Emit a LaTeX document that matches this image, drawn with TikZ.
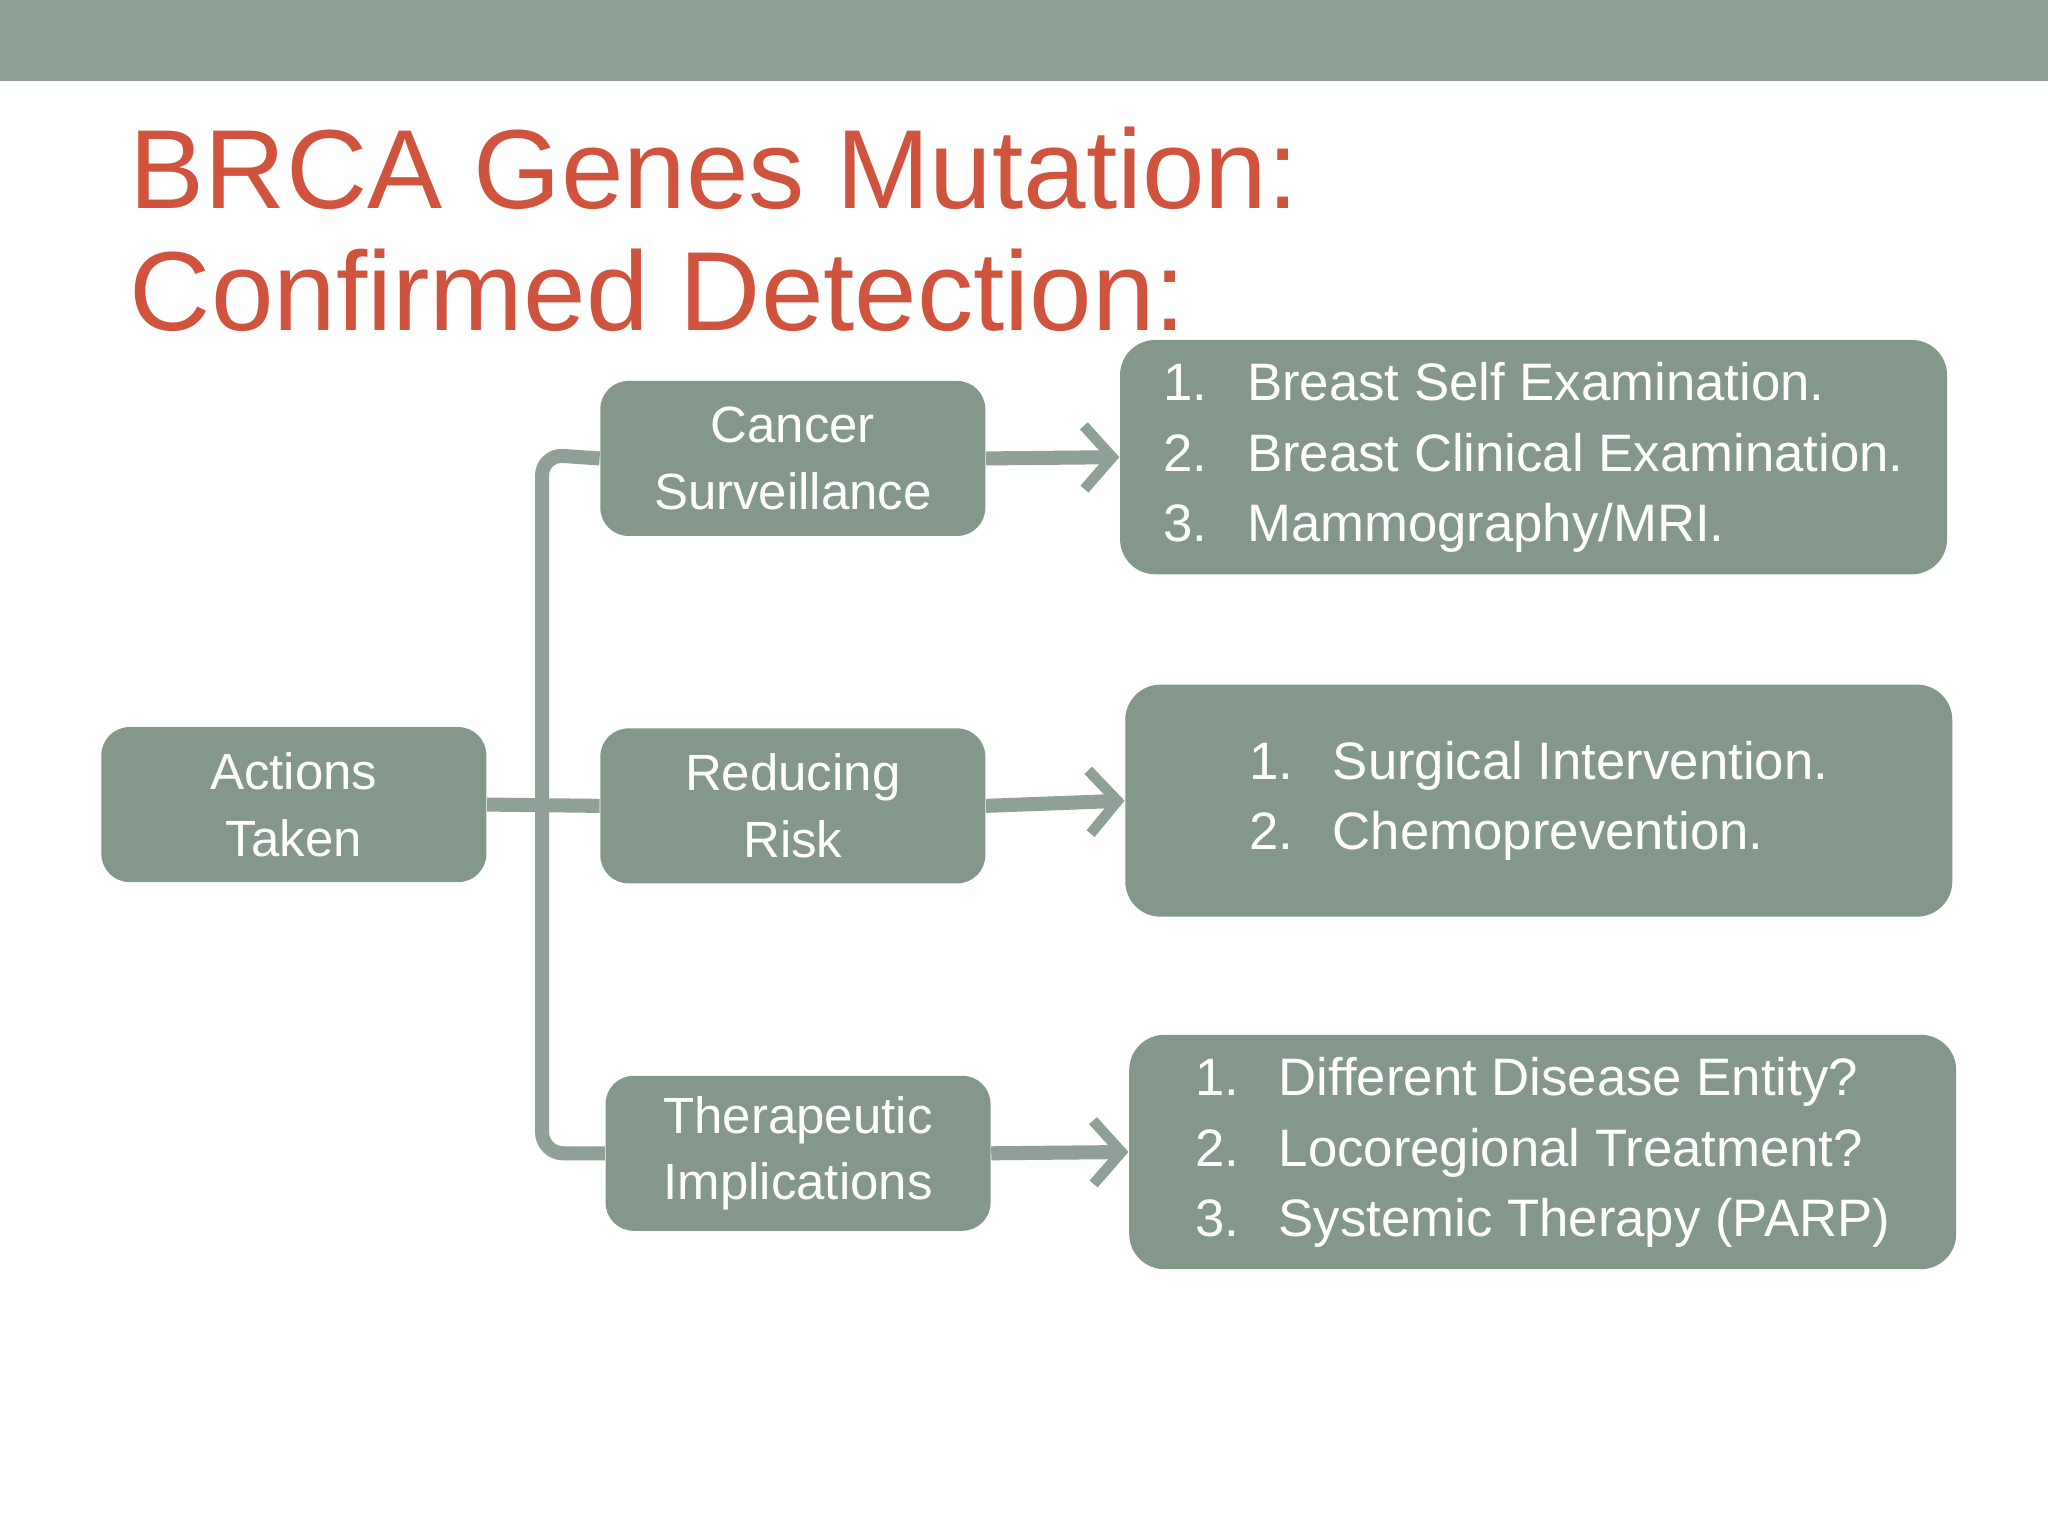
\documentclass[tikz,border=0pt]{standalone}
\usepackage{fontspec}
\setmainfont{Liberation Sans}
\usetikzlibrary{arrows.meta,positioning}
\definecolor{band}{HTML}{8FA096}
\definecolor{boxfill}{HTML}{84978B}
\definecolor{titlered}{HTML}{D0533E}
\tikzset{
  stage/.style={rectangle,rounded corners=8pt,fill=boxfill,text=white,
    minimum width=3.85cm,minimum height=1.55cm,align=center,font=\fontsize{14.5}{19}\selectfont},
  list/.style={rectangle,rounded corners=10pt,fill=boxfill,text=white,
    minimum width=8.27cm,minimum height=2.32cm,font=\fontsize{15}{20}\selectfont},
  link/.style={line width=4pt,draw=band,-{Straight Barb[length=8pt,width=18pt,line width=3pt]}},
  brace/.style={line width=4pt,draw=band}
}
\newcommand{\items}[1]{\begin{tabular}{@{}l@{\hspace{0.75em}}l@{}}#1\end{tabular}}
\begin{document}
\begin{tikzpicture}[x=0.01306cm,y=-0.01306cm]
\useasboundingbox (0,0) rectangle (1568,1176);
\fill[band] (0,0) rectangle (1568,62);
\node[anchor=base west,text=titlered,font=\fontsize{32}{38}\selectfont] (t1) at (90,160) {BRCA Genes Mutation:};
\node[anchor=base west,text=titlered,font=\fontsize{32}{38}\selectfont] (t2) at (90,253) {Confirmed Detection:};

\node[stage] (act) at (225,616) {Actions\\Taken};
\node[stage] (surv) at (607,351) {Cancer\\Surveillance};
\node[stage] (risk) at (607,617) {Reducing\\Risk};
\node[stage] (ther) at (611,883) {Therapeutic\\Implications};

\node[list,anchor=west] (l1) at (857,350) {\items{1. & Breast Self Examination.\\2. & Breast Clinical Examination.\\3. & Mammography/MRI.}};
\node[list,anchor=west] (l2) at (861,613) {\raisebox{0.35cm}{\items{1. & Surgical Intervention.\\2. & Chemoprevention.}}\hspace{2.6cm}};
\node[list,anchor=west] (l3) at (864,882) {\items{1. & Different Disease Entity?\\2. & Locoregional Treatment?\\3. & Systemic Therapy (PARP)}};

\coordinate (top) at (415,348);
\coordinate (bot) at (415,883);
\draw[brace,rounded corners=6pt] (surv.west) -- (top) -- (bot) -- (ther.west);
\draw[brace] (act.east) -- (risk.west);

\draw[link] (surv.east) -- (l1.west);
\draw[link] (risk.east) -- (l2.west);
\draw[link] (ther.east) -- (l3.west);
\end{tikzpicture}
\end{document}
